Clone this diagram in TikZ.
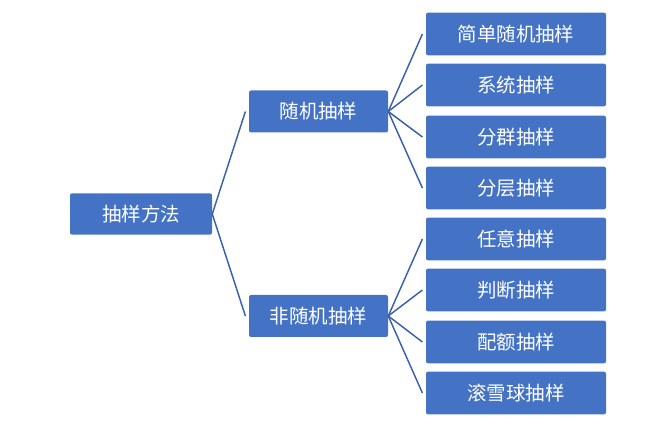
\documentclass[tikz,border=0pt]{standalone}
\usepackage{fontspec}
\setmainfont{Noto Sans CJK SC}
\usepackage{tikz}

\definecolor{boxblue}{RGB}{68,114,196}
\definecolor{lineblue}{RGB}{59,96,176}

\begin{document}
\begin{tikzpicture}[x=0.75pt,y=-0.75pt,
	every node/.style = {fill=boxblue, text=white, rounded corners=1.5pt, inner sep=0pt,
		font=\fontsize{14.6pt}{17pt}\selectfont},
	rootbox/.style = {minimum width=106.5pt, minimum height=31pt},
	midbox/.style = {minimum width=104.25pt, minimum height=31.5pt},
	leafbox/.style = {minimum width=135pt, minimum height=32pt},
	edge/.style = {draw=lineblue, line width=1.1pt}]
\useasboundingbox (0,0) rectangle (657,441);
\node[rootbox] (method) at (141,214) {抽样方法};
\node[midbox] (random) at (318.5,111.5) {随机抽样};
\node[midbox] (nonrandom) at (318.5,316) {非随机抽样};
\node[leafbox] (simple) at (516,34) {简单随机抽样};
\node[leafbox] (system) at (516,85) {系统抽样};
\node[leafbox] (cluster) at (516,137) {分群抽样};
\node[leafbox] (strata) at (516,188) {分层抽样};
\node[leafbox] (any) at (516,239) {任意抽样};
\node[leafbox] (judge) at (516,290) {判断抽样};
\node[leafbox] (quota) at (516,342) {配额抽样};
\node[leafbox] (snow) at (516,393) {滚雪球抽样};
% connectors
\foreach \c in {random,nonrandom}
	\draw[edge] (method.east) -- ([xshift=-2.5]\c.west);
\foreach \c in {simple,system,cluster,strata}
	\draw[edge] (random.east) -- ([xshift=-2.5]\c.west);
\foreach \c in {any,judge,quota,snow}
	\draw[edge] (nonrandom.east) -- ([xshift=-2.5]\c.west);
\end{tikzpicture}
\end{document}
